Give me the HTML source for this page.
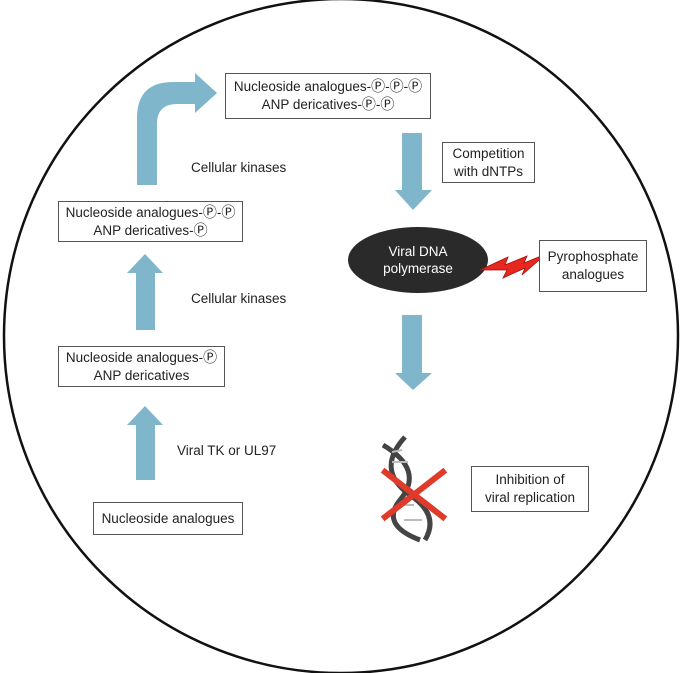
<!DOCTYPE html>
<html><head><meta charset="utf-8"><style>
html,body{margin:0;padding:0;background:#fff}
body{width:685px;height:673px;position:relative;overflow:hidden;font-family:"Liberation Sans","DejaVu Sans",sans-serif;color:#222}
.b{position:absolute;border:1.5px solid #555;background:#fff;box-sizing:border-box;display:flex;align-items:center;justify-content:center;text-align:center;font-size:13.5px;line-height:18px}
.b>div{white-space:nowrap}
.t{position:absolute;font-size:13.5px;white-space:nowrap}
.p{font-family:"DejaVu Sans",sans-serif;font-size:14px}
</style></head><body>
<svg width="685" height="673" style="position:absolute;left:0;top:0">
<circle cx="341" cy="336" r="337" fill="none" stroke="#111" stroke-width="2.5"/>
<g fill="#80b6cc">
<path d="M137 185 L137 118 Q137 82 173 82 L195 82 L195 73 L217 93 L195 113 L195 104 L177 104 Q157 104 157 124 L157 185 Z"/>
<path d="M136 330 L136 273 L127 273 L145 254 L163 273 L155 273 L155 330 Z"/>
<path d="M136 480 L136 425 L127 425 L145 406 L163 425 L155 425 L155 480 Z"/>
<path d="M402 133 L422 133 L422 190 L432 190 L413 210 L395 190 L402 190 Z"/>
<path d="M402 315 L422 315 L422 373 L432 373 L413 390 L395 373 L402 373 Z"/>
</g>
<ellipse cx="418" cy="260" rx="70" ry="33" fill="#2a2a2a"/>
<path d="M480 270 L508 257 L505 265 L527 256 L524 263 L546 254 L522 275 L525 268 L503 278 L507 270 Z" fill="#e8281e" stroke="#a01010" stroke-width="0.8"/>
<g stroke="#444" stroke-width="5" fill="none">
<path d="M383 445 Q425 470 400 500 Q380 525 420 540"/>
<path d="M405 437 Q375 470 410 495 Q440 515 425 540"/>
</g>
<g stroke="#bbb" stroke-width="2">
<line x1="392" y1="452" x2="402" y2="450"/><line x1="392" y1="462" x2="408" y2="462"/>
<line x1="398" y1="505" x2="414" y2="505"/><line x1="404" y1="520" x2="422" y2="520"/>
</g>
<g stroke="#e03a2a" stroke-width="6" stroke-linecap="square">
<line x1="385" y1="472" x2="443" y2="517"/><line x1="443" y1="472" x2="385" y2="517"/>
</g>
<text x="418" y="256" fill="#fff" font-size="13.5" text-anchor="middle" font-family="Liberation Sans,sans-serif">Viral DNA</text>
<text x="418" y="273" fill="#fff" font-size="13.5" text-anchor="middle" font-family="Liberation Sans,sans-serif">polymerase</text>
</svg>
<div class="b" style="left:225px;top:73px;width:206px;height:46px"><div>Nucleoside analogues-<span class="p">Ⓟ</span>-<span class="p">Ⓟ</span>-<span class="p">Ⓟ</span><br>ANP dericatives-<span class="p">Ⓟ</span>-<span class="p">Ⓟ</span></div></div>
<div class="b" style="left:58px;top:201px;width:185px;height:41px"><div>Nucleoside analogues-<span class="p">Ⓟ</span>-<span class="p">Ⓟ</span><br>ANP dericatives-<span class="p">Ⓟ</span></div></div>
<div class="b" style="left:58px;top:346px;width:167px;height:41px"><div>Nucleoside analogues-<span class="p">Ⓟ</span><br>ANP dericatives</div></div>
<div class="b" style="left:93px;top:502px;width:150px;height:33px"><div>Nucleoside analogues</div></div>
<div class="b" style="left:442px;top:142px;width:93px;height:41px"><div>Competition<br>with dNTPs</div></div>
<div class="b" style="left:539px;top:240px;width:108px;height:52px"><div>Pyrophosphate<br>analogues</div></div>
<div class="b" style="left:471px;top:466px;width:118px;height:46px"><div>Inhibition of<br>viral replication</div></div>
<div class="t" style="left:191px;top:160px">Cellular kinases</div>
<div class="t" style="left:191px;top:291px">Cellular kinases</div>
<div class="t" style="left:177px;top:443px">Viral TK or UL97</div>
</body></html>
